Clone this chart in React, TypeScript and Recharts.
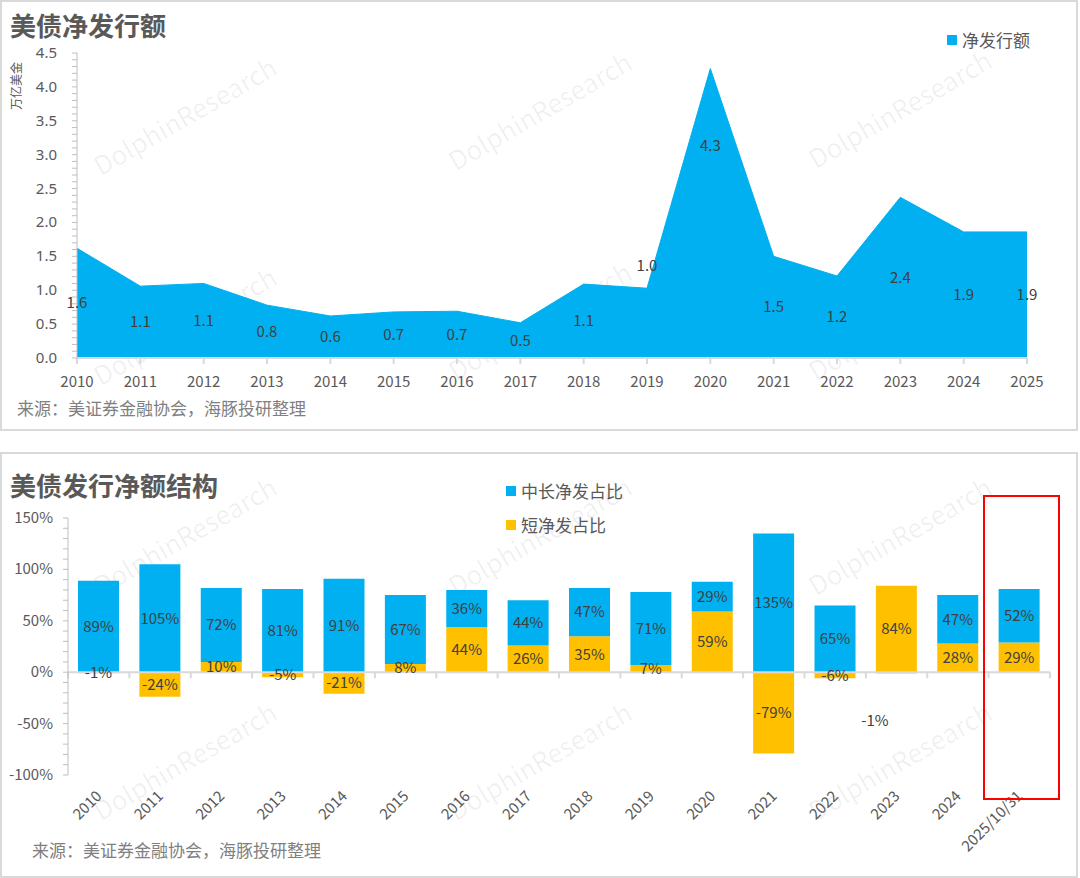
import { Area, AreaChart, Bar, BarChart, LabelList, Line, ReferenceDot, ReferenceLine, XAxis, YAxis } from 'recharts'

const years = ['2010', '2011', '2012', '2013', '2014', '2015', '2016', '2017', '2018', '2019', '2020', '2021', '2022', '2023', '2024', '2025']
const netIssuance = [1.62, 1.06, 1.1, 0.78, 0.62, 0.68, 0.69, 0.52, 1.09, 1.03, 4.27, 1.5, 1.21, 2.37, 1.86, 1.86]
// label anchors that were moved by hand in the original (in 万亿美金)
const netLabelMoved: Record<string, number> = { '2019': 1.36, '2020': 3.13 }

const structYears = ['2010', '2011', '2012', '2013', '2014', '2015', '2016', '2017', '2018', '2019', '2020', '2021', '2022', '2023', '2024', '2025/10/31']
const longShare = [89, 105, 72, 81, 91, 67, 36, 44, 47, 71, 29, 135, 65, -1, 47, 52]
const shortShare = [-1, -24, 10, -5, -21, 8, 44, 26, 35, 7, 59, -79, -6, 84, 28, 29]
// 2023's tiny long-term label sits away from its bar
const detachedLong = [{ year: '2023', at: -47, text: '-1%' }]

const topYTicks = Array.from({ length: 46 }, (_, i) => i / 10)
const bottomYTicks = Array.from({ length: 26 }, (_, i) => -100 + i * 10)

const BLUE = '#00B0F0'
const GOLD = '#FFC000'
const AXIS = '#bfbfbf'
const TEXT = '#595959'
const FONT = '"Noto Sans CJK SC", "Noto Sans", sans-serif'
const NUM_FONT = '"Noto Sans", sans-serif'

const topData = years.map((y, i) => ({
  year: y,
  net: netIssuance[i],
  labelPos: netLabelMoved[y] ?? netIssuance[i] / 2,
  labelText: netIssuance[i].toFixed(1),
}))

const bottomData = structYears.map((y, i) => ({
  year: y,
  long: longShare[i],
  short: shortShare[i],
  longLabel: detachedLong.some((d) => d.year === y) ? null : longShare[i],
}))

const TopYTick = (props: any) => {
  const { x, y, payload } = props
  const v = Math.round(payload.value * 10)
  if (v % 5 !== 0) return null
  return (
    <text x={x} y={y} dy={5} textAnchor="end" fill={TEXT} fontSize={15} fontFamily={NUM_FONT}>
      {(v / 10).toFixed(1)}
    </text>
  )
}

const BottomYTick = (props: any) => {
  const { x, y, payload } = props
  if (payload.value % 50 !== 0) return null
  return (
    <text x={x} y={y} dy={5} textAnchor="end" fill={TEXT} fontSize={15} fontFamily={FONT}>
      {payload.value}%
    </text>
  )
}

const RotatedTick = (props: any) => {
  const { x, y, payload } = props
  return (
    <text
      x={x + 4}
      y={y}
      textAnchor="end"
      fill={TEXT}
      fontSize={15}
      fontFamily={FONT}
      transform={`rotate(-45, ${x + 4}, ${y})`}
    >
      {payload.value}
    </text>
  )
}

const ZeroAxis = (props: any) => {
  const { x1, x2, y1 } = props
  const n = structYears.length
  const step = (x2 - x1) / n
  return (
    <g>
      <line x1={x1} x2={x2} y1={y1} y2={y1} stroke="#d9d9d9" strokeWidth={2} />
      {Array.from({ length: n + 1 }, (_, i) => (
        <line key={i} x1={x1 + i * step} x2={x1 + i * step} y1={y1} y2={y1 + 6} stroke="#d9d9d9" strokeWidth={2} />
      ))}
    </g>
  )
}

const watermarks = [
  [190, 125], [545, 120], [905, 118],
  [190, 335], [545, 330], [905, 330],
  [190, 545], [545, 545], [905, 545],
  [190, 770], [545, 770], [905, 770],
]

const legendSquare = (color: string) => (
  <span style={{ display: 'inline-block', width: 10, height: 10, background: color, marginRight: 5 }} />
)

export default function App() {
  return (
    <div style={{ position: 'absolute', left: 0, top: 0, width: 1080, height: 878, background: '#fff', fontFamily: FONT, overflow: 'hidden' }}>
      <svg width={1080} height={878} style={{ position: 'absolute', left: 0, top: 0 }}>
        {watermarks.map(([cx, cy], i) => (
          <text
            key={i}
            x={cx}
            y={cy}
            textAnchor="middle"
            fontSize={26}
            fontFamily={FONT}
            fill="#000"
            fillOpacity={0.06}
            transform={`rotate(-30, ${cx}, ${cy})`}
          >
            DolphinResearch
          </text>
        ))}
      </svg>

      <div style={{ position: 'absolute', left: 0, top: 0, width: 1078, height: 431, border: '2px solid #d9d9d9', boxSizing: 'border-box' }} />
      <div style={{ position: 'absolute', left: 0, top: 452, width: 1078, height: 426, border: '2px solid #d9d9d9', boxSizing: 'border-box' }} />

      {/* top chart */}
      <div style={{ position: 'absolute', left: 0, top: 0 }}>
        <AreaChart width={1080} height={431} data={topData} margin={{ top: 53, right: 53, left: 0, bottom: 0 }}>
          <XAxis
            dataKey="year"
            height={73}
            axisLine={{ stroke: '#d9d9d9', strokeWidth: 2 }}
            tickLine={{ stroke: '#d9d9d9', strokeWidth: 2 }}
            tickSize={6}
            tickMargin={12}
            tick={{ fill: TEXT, fontSize: 15, fontFamily: FONT }}
            interval={0}
          />
          <YAxis
            width={77}
            domain={[0, 4.5]}
            ticks={topYTicks}
            interval={0}
            axisLine={{ stroke: AXIS }}
            tickLine={{ stroke: AXIS }}
            tickSize={5}
            tickMargin={15}
            tick={<TopYTick />}
          />
          <Area type="linear" dataKey="net" fill={BLUE} fillOpacity={1} stroke={BLUE} strokeWidth={1} isAnimationActive={false} />
          <Line type="linear" dataKey="labelPos" stroke="none" dot={false} activeDot={false} isAnimationActive={false}>
            <LabelList dataKey="labelText" position="center" fill="#404040" fontSize={15} fontFamily={FONT} />
          </Line>
        </AreaChart>
      </div>

      <div style={{ position: 'absolute', left: 10, top: 11, fontSize: 26, fontWeight: 700, color: TEXT, lineHeight: '27px' }}>美债净发行额</div>
      <div
        style={{
          position: 'absolute',
          left: 15,
          top: 86,
          fontSize: 12,
          color: TEXT,
          transform: 'translate(-50%, -50%) rotate(-90deg)',
          whiteSpace: 'nowrap',
        }}
      >
        万亿美金
      </div>
      <div style={{ position: 'absolute', left: 947, top: 28, fontSize: 17, color: TEXT, display: 'flex', alignItems: 'center', lineHeight: '24px' }}>
        {legendSquare(BLUE)}净发行额
      </div>
      <div style={{ position: 'absolute', left: 17, top: 396, fontSize: 17, color: '#808080', lineHeight: '24px' }}>来源：美证券金融协会，海豚投研整理</div>

      {/* bottom chart */}
      <div style={{ position: 'absolute', left: 0, top: 452 }}>
        <BarChart
          width={1080}
          height={426}
          data={bottomData}
          stackOffset="sign"
          margin={{ top: 66, right: 30, left: 0, bottom: 0 }}
          barSize={41}
        >
          <XAxis
            dataKey="year"
            height={103}
            axisLine={false}
            tickLine={false}
            interval={0}
            tickMargin={16}
            tick={<RotatedTick />}
          />
          <YAxis
            width={68}
            domain={[-100, 150]}
            ticks={bottomYTicks}
            interval={0}
            axisLine={{ stroke: AXIS }}
            tickLine={{ stroke: AXIS }}
            tickSize={5}
            tickMargin={10}
            tick={<BottomYTick />}
          />
          <Bar dataKey="short" stackId="s" fill={GOLD} isAnimationActive={false}>
            <LabelList dataKey="short" position="center" formatter={(v: any) => `${v}%`} fill="#404040" fontSize={15} fontFamily={FONT} />
          </Bar>
          <Bar dataKey="long" stackId="s" fill={BLUE} isAnimationActive={false}>
            <LabelList dataKey="longLabel" position="center" formatter={(v: any) => `${v}%`} fill="#404040" fontSize={15} fontFamily={FONT} />
          </Bar>
          <ReferenceLine y={0} shape={<ZeroAxis />} ifOverflow="visible" />
          {detachedLong.map((d) => (
            <ReferenceDot
              key={d.year}
              x={d.year}
              y={d.at}
              r={0}
              stroke="none"
              label={{ value: d.text, position: 'left', offset: 8, fill: '#404040', fontSize: 15, fontFamily: FONT }}
            />
          ))}
        </BarChart>
      </div>

      <div style={{ position: 'absolute', left: 10, top: 470, fontSize: 26, fontWeight: 700, color: TEXT, lineHeight: '29px' }}>美债发行净额结构</div>
      <div style={{ position: 'absolute', left: 506, top: 479, fontSize: 17, color: TEXT, lineHeight: '24px' }}>
        <div style={{ display: 'flex', alignItems: 'center' }}>{legendSquare(BLUE)}中长净发占比</div>
        <div style={{ display: 'flex', alignItems: 'center', marginTop: 10 }}>{legendSquare(GOLD)}短净发占比</div>
      </div>
      <div style={{ position: 'absolute', left: 32, top: 838, fontSize: 17, color: '#808080', lineHeight: '24px' }}>来源：美证券金融协会，海豚投研整理</div>

      <div style={{ position: 'absolute', left: 983, top: 495, width: 77, height: 305, border: '2px solid #ff0000', boxSizing: 'border-box' }} />
    </div>
  )
}
